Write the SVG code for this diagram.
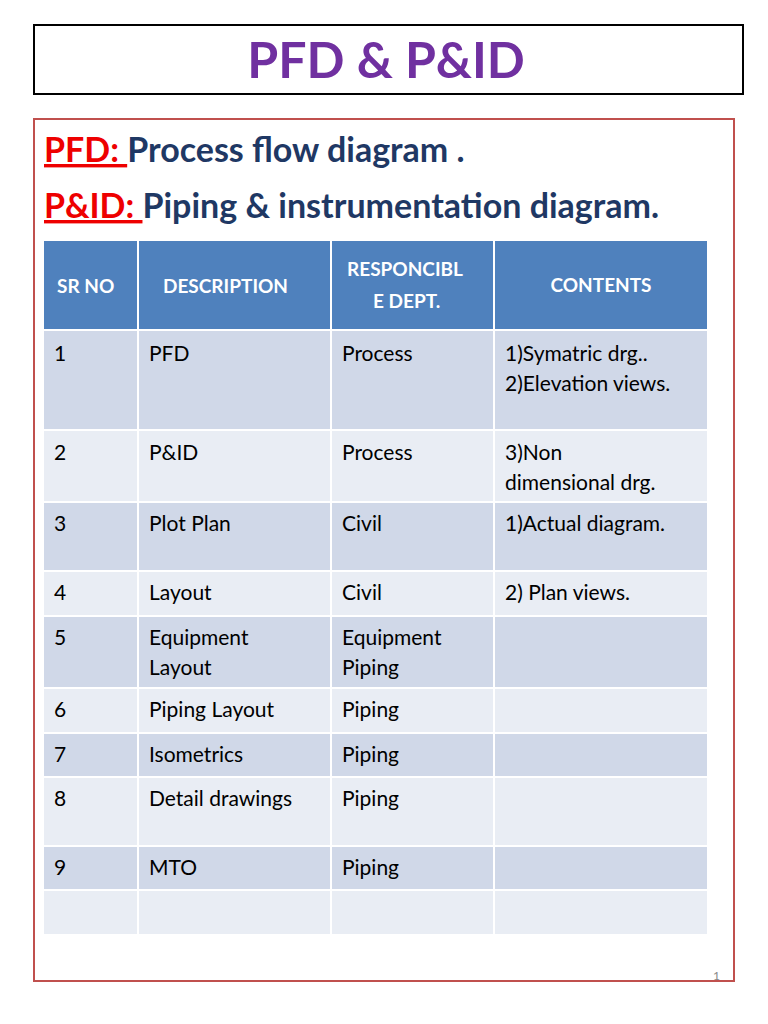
<svg xmlns="http://www.w3.org/2000/svg" width="768" height="1024" viewBox="0 0 768 1024">
<style>
.t{font-family:Lato,"Open Sans",sans-serif;font-size:21px;fill:#000}
.h{font-family:Lato,"Open Sans",sans-serif;font-size:19px;font-weight:bold;fill:#fff}
.a{fill:#D0D8E8}.b{fill:#E9EDF4}
.big{font-family:Lato,"Open Sans",sans-serif;font-size:34px;font-weight:bold}
</style>
<rect width="768" height="1024" fill="#fff"/>
<g id="title"><rect x="34" y="25" width="709" height="69" fill="#fff" stroke="#000" stroke-width="2"/>
<text x="386" y="78" text-anchor="middle" font-family="Lato,'Open Sans',sans-serif" font-size="50" font-weight="bold" fill="#7030A0">PFD  &amp;  P&amp;ID</text></g>
<rect x="34" y="119" width="700" height="862" fill="#fff" stroke="#C0504D" stroke-width="2"/>
<text class="big" x="44" y="162"><tspan fill="#E00" text-decoration="underline">PFD: </tspan><tspan fill="#1F3864">Process flow diagram .</tspan></text>
<text class="big" x="44" y="218"><tspan fill="#E00" text-decoration="underline">P&amp;ID: </tspan><tspan fill="#1F3864">Piping &amp; instrumentation diagram.</tspan></text>
<g id="table" stroke="#fff" stroke-width="2">
<rect x="43" y="240" width="665" height="90" fill="#4F81BD"/>
<rect x="43" y="330" width="665" height="100" class="a"/>
<rect x="43" y="430" width="665" height="72" class="b"/>
<rect x="43" y="502" width="665" height="69" class="a"/>
<rect x="43" y="571" width="665" height="45" class="b"/>
<rect x="43" y="616" width="665" height="72" class="a"/>
<rect x="43" y="688" width="665" height="45" class="b"/>
<rect x="43" y="733" width="665" height="44" class="a"/>
<rect x="43" y="777" width="665" height="69" class="b"/>
<rect x="43" y="846" width="665" height="44" class="a"/>
<rect x="43" y="890" width="665" height="45" class="b"/>
<line x1="138" y1="240" x2="138" y2="935"/><line x1="331" y1="240" x2="331" y2="935"/><line x1="494" y1="240" x2="494" y2="935"/>
</g>
<g id="header">
<text class="h" x="57" y="293">SR NO</text>
<text class="h" x="163" y="293">DESCRIPTION</text>
<text class="h" x="347" y="276">RESPONCIBL</text><text class="h" x="373" y="308">E DEPT.</text>
<text class="h" x="601" y="292" text-anchor="middle" font-size="18">CONTENTS</text>
</g>
<g id="cells">
<text class="t" x="54" y="361">1</text><text class="t" x="149" y="361">PFD</text><text class="t" x="342" y="361">Process</text><text class="t" x="505" y="361">1)Symatric drg..</text><text class="t" x="505" y="391">2)Elevation views.</text>
<text class="t" x="54" y="460">2</text><text class="t" x="149" y="460">P&amp;ID</text><text class="t" x="342" y="460">Process</text><text class="t" x="505" y="460">3)Non</text><text class="t" x="505" y="490">dimensional drg.</text>
<text class="t" x="54" y="531">3</text><text class="t" x="149" y="531">Plot  Plan</text><text class="t" x="342" y="531">Civil</text><text class="t" x="505" y="531">1)Actual diagram.</text>
<text class="t" x="54" y="600">4</text><text class="t" x="149" y="600">Layout</text><text class="t" x="342" y="600">Civil</text><text class="t" x="505" y="600">2) Plan views.</text>
<text class="t" x="54" y="645">5</text><text class="t" x="149" y="645">Equipment</text><text class="t" x="149" y="675">Layout</text><text class="t" x="342" y="645">Equipment</text><text class="t" x="342" y="675">Piping</text>
<text class="t" x="54" y="717">6</text><text class="t" x="149" y="717">Piping Layout</text><text class="t" x="342" y="717">Piping</text>
<text class="t" x="54" y="762">7</text><text class="t" x="149" y="762">Isometrics</text><text class="t" x="342" y="762">Piping</text>
<text class="t" x="54" y="806">8</text><text class="t" x="149" y="806">Detail drawings</text><text class="t" x="342" y="806">Piping</text>
<text class="t" x="54" y="875">9</text><text class="t" x="149" y="875">MTO</text><text class="t" x="342" y="875">Piping</text>
</g>
<text x="713" y="980" font-family="Lato,sans-serif" font-size="12" fill="#888">1</text>
</svg>
